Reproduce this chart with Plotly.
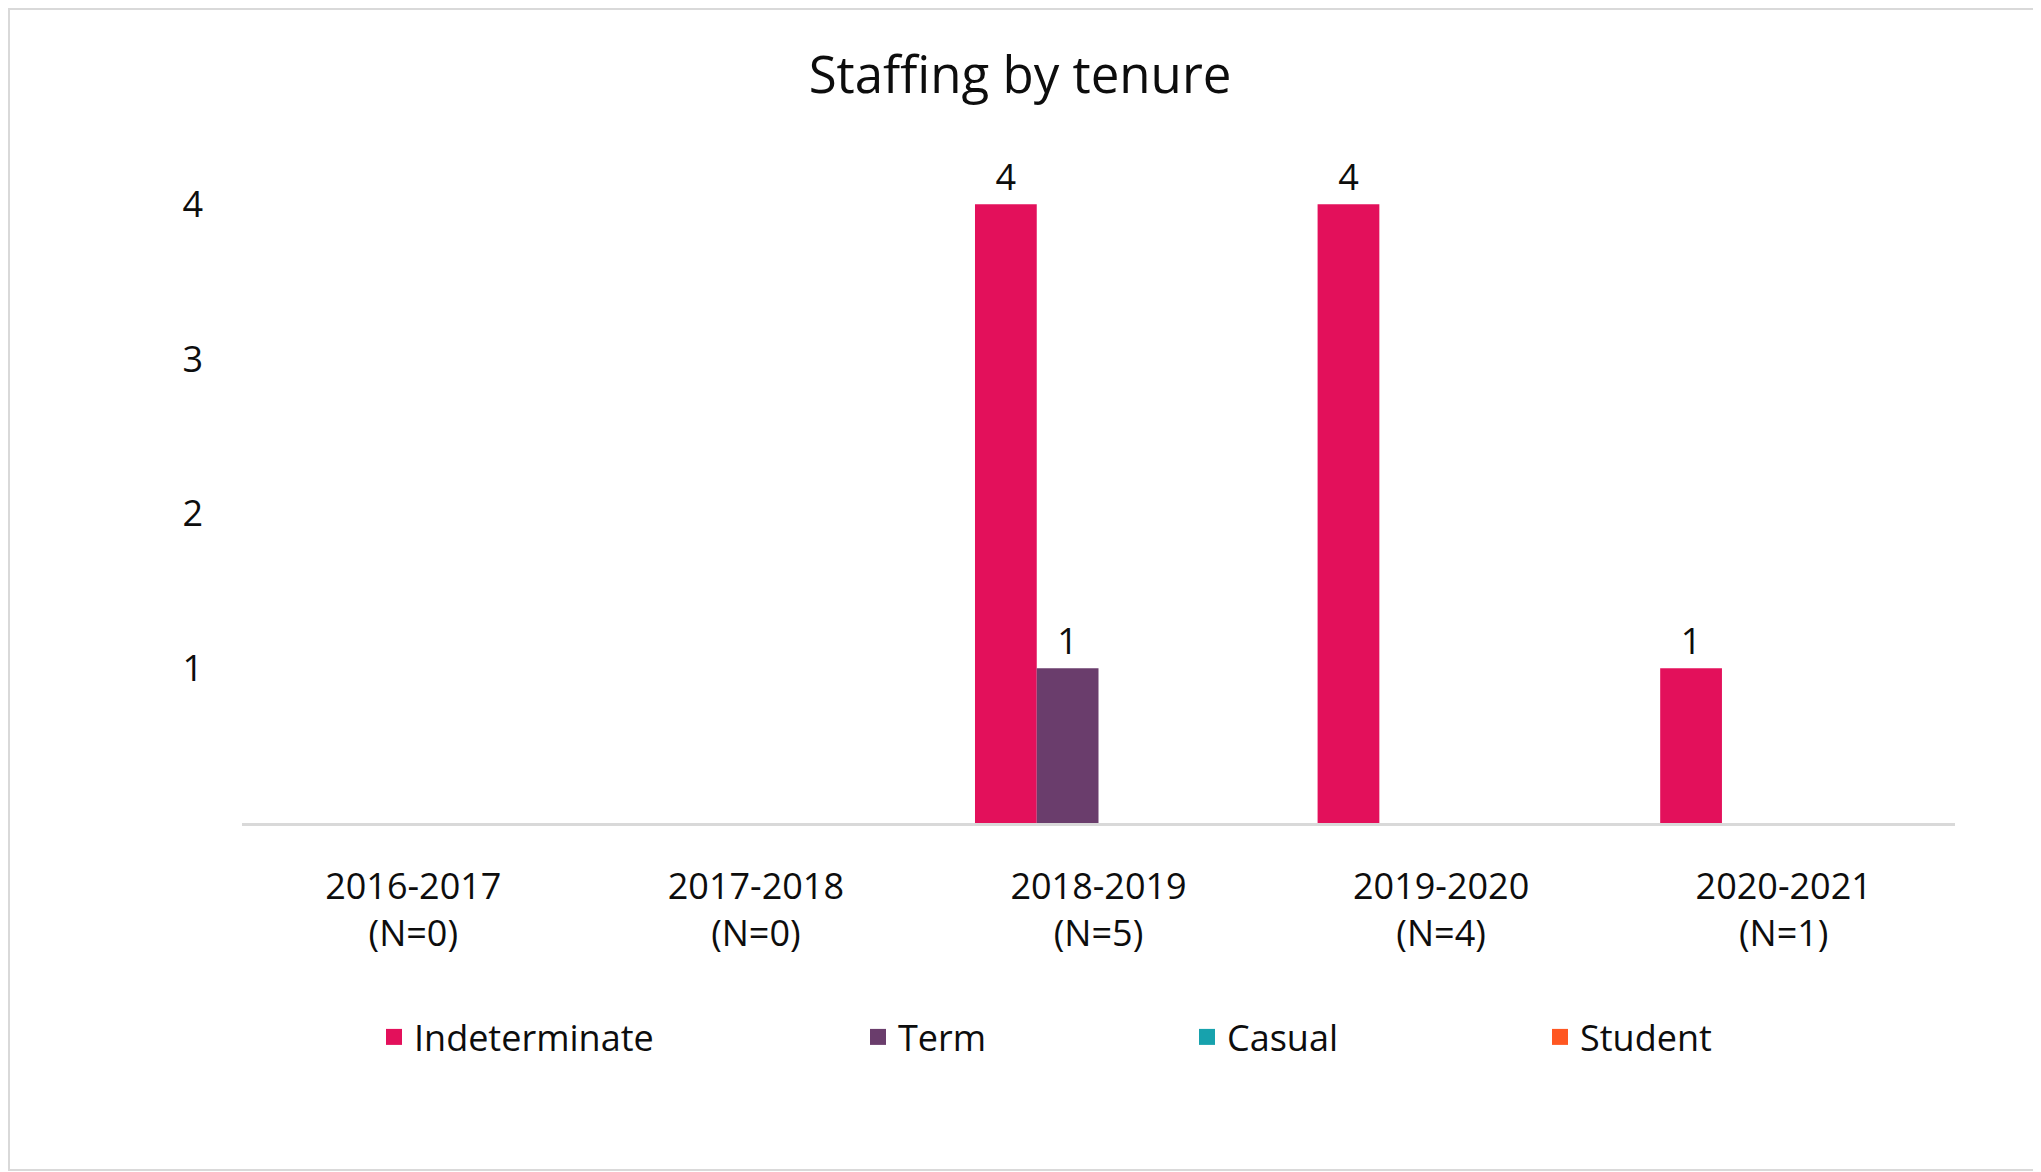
import plotly.graph_objects as go

# ---- data ----
categories = ["2016-2017<br>(N=0)", "2017-2018<br>(N=0)", "2018-2019<br>(N=5)",
              "2019-2020<br>(N=4)", "2020-2021<br>(N=1)"]
indeterminate = [0, 0, 4, 4, 1]
term = [0, 0, 1, 0, 0]
casual = [0, 0, 0, 0, 0]
student = [0, 0, 0, 0, 0]
series_names = ["Indeterminate", "Term", "Casual", "Student"]
series_colors = ["#E3105B", "#6A3D6C", "#17A2AD", "#FF5722"]
y_ticks = [1, 2, 3, 4]

# page offset (body margin) compensation
OFF = 8
SW, SH = 2041, 1172           # screen size
W, H = SW - OFF, SH - OFF     # figure size
# plot area in screen coordinates
S_L, S_R, S_T, S_B = 242, 1955, 127, 823
ML, MR, MT, MB = S_L - OFF, W - (S_R - OFF), S_T - OFF, H - (S_B - OFF)
PW, PH = S_R - S_L, S_B - S_T

def px_x(s):
    return (s - S_L) / PW

def px_y(s):
    return (S_B - s) / PH

FONT = "Open Sans"
fs = 36
TXT = "#0D0D0D"

fig = go.Figure()
series_values = [indeterminate, term, casual, student]
legend_ids = ["legend", "legend2", "legend3", "legend4"]
for name, vals, col, lg in zip(series_names, series_values, series_colors, legend_ids):
    fig.add_trace(go.Bar(
        x=categories, y=vals, name=name,
        marker=dict(color=col, line=dict(width=0)),
        text=[str(v) if v else "" for v in vals],
        textposition="outside", cliponaxis=False,
        textfont=dict(family=FONT, size=fs, color=TXT),
        showlegend=False, legendgroup=name,
    ))
    # legend proxy (larger square swatch)
    fig.add_trace(go.Scatter(
        x=[None], y=[None], mode="markers", name=name, legend=lg,
        legendgroup=name,
        marker=dict(symbol="square", size=16, color=col),
    ))

legend_px = [374, 858, 1187, 1540]
leg_y = px_y(1037)
legend_common = dict(orientation="h", yanchor="middle", xanchor="left",
                     font=dict(family=FONT, size=fs, color=TXT),
                     bgcolor="rgba(0,0,0,0)", itemclick=False, itemdoubleclick=False)
layout_legends = {}
for lg, lx in zip(legend_ids, legend_px):
    layout_legends[lg] = dict(x=px_x(lx), y=leg_y, **legend_common)

fig.update_layout(
    width=W, height=H,
    margin=dict(l=ML, r=MR, t=MT, b=MB),
    paper_bgcolor="white", plot_bgcolor="white",
    font=dict(family=FONT, size=fs, color=TXT),
    title=dict(text="Staffing by tenure", x=(1020 - OFF) / W, xref="container", xanchor="center",
               y=1 - (75.5 - OFF) / H, yref="container", yanchor="middle",
               font=dict(family=FONT, size=51, color=TXT)),
    barmode="group", bargap=0.279, bargroupgap=0,
    xaxis=dict(showline=True, linecolor="#D9D9D9", linewidth=3, showgrid=False,
               ticks="", tickfont=dict(family=FONT, size=fs, color=TXT),
               ticklabelstandoff=30, fixedrange=True),
    yaxis=dict(range=[0, 4.5], tickvals=y_ticks, showgrid=False, zeroline=False,
               showline=False, ticks="", tickfont=dict(family=FONT, size=fs, color=TXT),
               ticklabelstandoff=38, fixedrange=True),
    shapes=[dict(type="rect", xref="paper", yref="paper",
                 x0=px_x(OFF + 1), x1=px_x(SW - 2), y0=px_y(SH - 2), y1=px_y(OFF + 1),
                 line=dict(color="#D9D9D9", width=2), fillcolor="rgba(0,0,0,0)",
                 layer="below")],
    **layout_legends,
)

fig.write_html("out.html")
